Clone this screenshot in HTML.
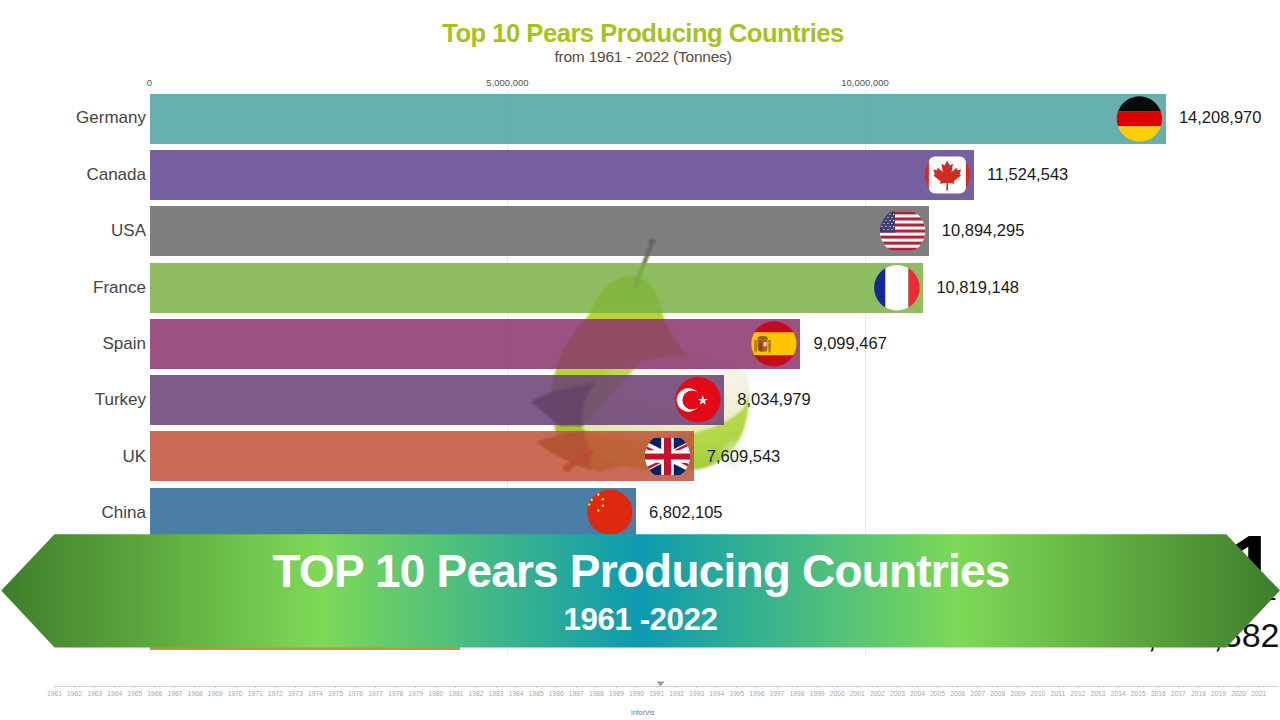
<!DOCTYPE html>
<html><head><meta charset="utf-8">
<style>
html,body{margin:0;padding:0;background:#fff;}
body{width:1280px;height:720px;position:relative;overflow:hidden;font-family:"Liberation Sans",sans-serif;}
.abs{position:absolute;}
#title{left:0;width:1286px;top:18.5px;text-align:center;font-weight:bold;font-size:25.6px;letter-spacing:-0.5px;color:#a6c21e;white-space:nowrap;}
#sub{left:0;width:1286px;top:48px;text-align:center;font-size:15.5px;letter-spacing:-0.22px;color:#58493d;white-space:nowrap;}
.tick{top:77px;font-size:9.5px;color:#555;white-space:nowrap;transform:translateX(-50%);}
.grid{top:90px;width:1px;height:564px;background:#ececec;}
.bar{left:149.5px;height:50px;opacity:0.85;}
.lab{right:1134px;font-size:17px;color:#444;white-space:nowrap;line-height:50px;}
.val{font-size:16.5px;color:#1a1a1a;white-space:nowrap;line-height:50px;}
#btitle{left:0;width:1282px;top:544px;text-align:center;font-weight:bold;font-size:46px;letter-spacing:-0.8px;color:#fff;white-space:nowrap;}
#byear{left:0;width:1281px;top:601.5px;text-align:center;font-weight:bold;font-size:31.3px;letter-spacing:-0.45px;color:#fff;white-space:nowrap;}
.yl{top:690px;font-size:6.7px;color:#a8a8a8;transform:translateX(-50%);white-space:nowrap;}
</style></head><body>
<div id="title" class="abs">Top 10 Pears Producing Countries</div>
<div id="sub" class="abs">from 1961 - 2022 (Tonnes)</div>
<div class="abs tick" style="left:149.5px">0</div>
<div class="abs tick" style="left:507.5px">5,000,000</div>
<div class="abs tick" style="left:865px">10,000,000</div>
<div class="abs grid" style="left:507px"></div>
<div class="abs grid" style="left:864.5px"></div>
<div class="abs" style="right:2px;top:515.5px;font-size:92px;font-weight:bold;color:#000;white-space:nowrap">2021</div>
<div class="abs" style="right:0.5px;top:616px;font-size:34px;color:#111;white-space:nowrap">158,763,382</div>
<div class="abs" style="left:1266px;top:588px;width:14px;height:10px;background:#fff"></div>
<svg class="abs" style="left:0;top:0" width="1280" height="720" viewBox="0 0 1280 720">
<defs>
<linearGradient id="pg1" x1="0" y1="0" x2="0" y2="1">
<stop offset="0" stop-color="#a8d020"/>
<stop offset="0.3" stop-color="#bcd838"/>
<stop offset="0.6" stop-color="#b4d038"/>
<stop offset="1" stop-color="#90bc28"/>
</linearGradient>
<radialGradient id="pg2" cx="0.55" cy="0.25" r="0.85">
<stop offset="0" stop-color="#c8e070"/>
<stop offset="0.6" stop-color="#b4d848"/>
<stop offset="1" stop-color="#98c838"/>
</radialGradient>
<radialGradient id="flesh" cx="0.6" cy="0.2" r="0.8">
<stop offset="0" stop-color="#fbfaf2"/>
<stop offset="0.6" stop-color="#f2f0dc"/>
<stop offset="1" stop-color="#e0e8b0"/>
</radialGradient>
<filter id="blur1" x="-10%" y="-10%" width="120%" height="120%"><feGaussianBlur stdDeviation="1.0"/></filter>
<filter id="blur2" x="-20%" y="-20%" width="140%" height="140%"><feGaussianBlur stdDeviation="2"/></filter>
<filter id="blur3" x="-20%" y="-20%" width="140%" height="140%"><feGaussianBlur stdDeviation="3"/></filter>
</defs>
<g filter="url(#blur1)">
<!-- back pear -->
<path d="M632,276 C650,276 658,292 664,318 C670,336 684,350 694,366 L725,440 L600,472 C570,462 551,440 551,402 C551,372 564,338 588,316 C598,294 610,276 632,276 Z" fill="url(#pg1)"/>
<!-- stem -->
<path d="M650,242 C645,256 639,270 633,288 L637,288 C642,272 649,258 654,243 Z" fill="#7a6a44"/>
<ellipse cx="652.2" cy="241.5" rx="3.6" ry="2.8" fill="#504638"/>
<!-- leaves -->
<path d="M531,402 C545,392 570,386 600,382 L592,426 L560,426 C550,418 540,410 531,402 Z" fill="#587040"/>
<path d="M536,442 C552,436 570,432 586,431 L592,470 C575,466 555,456 536,442 Z" fill="#6a6424"/>
<path d="M568,467 L603,444" stroke="#a03a24" stroke-width="6" stroke-linecap="round"/>
<circle cx="603" cy="444" r="5" fill="#a03a24"/>
<circle cx="567" cy="468" r="4" fill="#a03a24"/>
<!-- front pear skin -->
<path d="M690,358 C725,360 750,375 749,400 C748,430 735,462 700,469 C660,475 600,470 586,440 C576,415 585,380 620,364 C640,356 670,356 690,358 Z" fill="url(#pg2)"/>
</g>
<!-- flesh -->
<path d="M642,361 C680,353 722,356 745,372 C751,384 750,400 742,410 C724,426 700,434 660,438 C625,441 600,437 582,429 C595,410 620,385 642,361 Z" fill="url(#flesh)" filter="url(#blur1)"/>
<!-- reflection lower right -->
<ellipse cx="735" cy="455" rx="12" ry="14" fill="#e8f0d0" opacity="0.5" filter="url(#blur3)"/>
</svg>
<div class="abs bar" style="top:93.75px;width:1016.30px;background:#4ba2a2"></div>
<div class="abs bar" style="top:150.00px;width:824.29px;background:#5e448f"></div>
<div class="abs bar" style="top:206.25px;width:779.21px;background:#676767"></div>
<div class="abs bar" style="top:262.50px;width:773.84px;background:#7bb044"></div>
<div class="abs bar" style="top:318.75px;width:650.84px;background:#8c336c"></div>
<div class="abs bar" style="top:375.00px;width:574.70px;background:#6a3d73"></div>
<div class="abs bar" style="top:431.25px;width:544.27px;background:#c25038"></div>
<div class="abs bar" style="top:487.50px;width:486.52px;background:#2a6796"></div>
<div class="abs bar" style="top:543.75px;width:400.54px;background:#3d883d"></div>
<div class="abs bar" style="top:600.00px;width:310.42px;background:#bf7f17"></div>
<div class="abs lab" style="top:93.45px">Germany</div>
<div class="abs val" style="top:92.45px;left:1178.90px">14,208,970</div>
<div class="abs lab" style="top:149.80px">Canada</div>
<div class="abs val" style="top:148.80px;left:986.89px">11,524,543</div>
<div class="abs lab" style="top:206.15px">USA</div>
<div class="abs val" style="top:205.15px;left:941.81px">10,894,295</div>
<div class="abs lab" style="top:262.50px">France</div>
<div class="abs val" style="top:261.50px;left:936.44px">10,819,148</div>
<div class="abs lab" style="top:318.85px">Spain</div>
<div class="abs val" style="top:317.85px;left:813.44px">9,099,467</div>
<div class="abs lab" style="top:375.20px">Turkey</div>
<div class="abs val" style="top:374.20px;left:737.30px">8,034,979</div>
<div class="abs lab" style="top:431.55px">UK</div>
<div class="abs val" style="top:430.55px;left:706.87px">7,609,543</div>
<div class="abs lab" style="top:487.90px">China</div>
<div class="abs val" style="top:486.90px;left:649.12px">6,802,105</div>
<svg class="abs" style="left:0;top:0" width="1280" height="720" viewBox="0 0 1280 720">
<defs>
<clipPath id="cDE"><circle cx="1139.4" cy="119" r="22.7"/></clipPath>
<clipPath id="cCA"><circle cx="947.4" cy="175" r="22.6"/></clipPath>
<clipPath id="cUS"><circle cx="902.5" cy="231.1" r="22.7"/></clipPath>
<clipPath id="cFR"><circle cx="896.9" cy="287.8" r="22.8"/></clipPath>
<clipPath id="cES"><circle cx="773.9" cy="343.9" r="22.7"/></clipPath>
<clipPath id="cTR"><circle cx="697.9" cy="399.8" r="22.7"/></clipPath>
<clipPath id="cUK"><circle cx="667.5" cy="456.3" r="22.7"/></clipPath><clipPath id="cUK2"><rect x="640" y="437.8" width="60" height="37.5"/></clipPath>
<clipPath id="cCN"><circle cx="609.8" cy="512.3" r="22.7"/></clipPath>
</defs>
<!-- Germany -->
<g clip-path="url(#cDE)">
<rect x="1116" y="96" width="47" height="15.3" fill="#0a0a0a"/>
<rect x="1116" y="111.3" width="47" height="15" fill="#dd0000"/>
<rect x="1116" y="126.3" width="47" height="16" fill="#ffce00"/>
</g>
<!-- Canada -->
<g clip-path="url(#cCA)">
<rect x="924" y="156.5" width="6" height="37" fill="#d52b1e"/><rect x="965" y="156.5" width="6" height="37" fill="#d52b1e"/>
</g>
<rect x="928.9" y="156.5" width="37" height="37" rx="6" fill="#fff"/>
<polygon fill="#d52b1e" points="947.2,160.4 949.8,165.5 953,163.8 951.6,172 956.5,167.8 957.6,170.2 961,169.4 959.6,174.5 961,175.6 953.6,181.6 954.6,183.8 947.9,182.9 948.1,190.4 946.3,190.4 946.5,182.9 939.8,183.8 940.8,181.6 933.4,175.6 934.8,174.5 933.4,169.4 936.8,170.2 937.9,167.8 942.8,172 941.4,163.8 944.6,165.5"/>
<!-- USA -->
<g clip-path="url(#cUS)">
<rect x="879" y="211.4" width="47" height="39.3" fill="#fff"/>
<g fill="#b22234">
<rect x="879" y="211.4" width="47" height="3.02"/>
<rect x="879" y="217.45" width="47" height="3.02"/>
<rect x="879" y="223.5" width="47" height="3.02"/>
<rect x="879" y="229.55" width="47" height="3.02"/>
<rect x="879" y="235.6" width="47" height="3.02"/>
<rect x="879" y="241.65" width="47" height="3.02"/>
<rect x="879" y="247.7" width="47" height="3.02"/>
</g>
<rect x="879" y="211.4" width="15.9" height="21.15" fill="#3c3b6e"/>
<g fill="#fff" opacity="0.85">
<circle cx="882" cy="214.5" r="0.7"/><circle cx="886" cy="214.5" r="0.7"/><circle cx="890" cy="214.5" r="0.7"/><circle cx="893.5" cy="214.5" r="0.7"/>
<circle cx="884" cy="217.5" r="0.7"/><circle cx="888" cy="217.5" r="0.7"/><circle cx="892" cy="217.5" r="0.7"/>
<circle cx="882" cy="220.5" r="0.7"/><circle cx="886" cy="220.5" r="0.7"/><circle cx="890" cy="220.5" r="0.7"/><circle cx="893.5" cy="220.5" r="0.7"/>
<circle cx="884" cy="223.5" r="0.7"/><circle cx="888" cy="223.5" r="0.7"/><circle cx="892" cy="223.5" r="0.7"/>
<circle cx="882" cy="226.5" r="0.7"/><circle cx="886" cy="226.5" r="0.7"/><circle cx="890" cy="226.5" r="0.7"/><circle cx="893.5" cy="226.5" r="0.7"/>
<circle cx="884" cy="229.5" r="0.7"/><circle cx="888" cy="229.5" r="0.7"/><circle cx="892" cy="229.5" r="0.7"/>
</g>
</g>
<!-- France -->
<g clip-path="url(#cFR)">
<rect x="873" y="264" width="12.4" height="48" fill="#15279a"/>
<rect x="885.4" y="264" width="23" height="48" fill="#fff"/>
<rect x="908.4" y="264" width="13" height="48" fill="#ed2939"/>
</g>
<!-- Spain -->
<g clip-path="url(#cES)">
<rect x="750" y="320" width="48" height="48" fill="#c60b1e"/>
<rect x="750" y="332.2" width="48" height="23" fill="#ffc400"/>
</g>
<g>
<path d="M757.2,339.6 C757.5,336.5 760,335.8 762.6,336.2 C765,335.8 768,336.5 768,339.6 Z" fill="#8a6410"/>
<path d="M757.6,339.4 L767.3,339.4 L767.3,349 C767.3,351 765,351.8 762.5,351.8 C760,351.8 757.6,351 757.6,349 Z" fill="#a85a18"/>
<rect x="759" y="343" width="3" height="8" fill="#8a3a10" opacity="0.8"/>
<rect x="763.5" y="342" width="3.2" height="4.2" fill="#f0d8c8"/>
<rect x="763.5" y="346.5" width="3.2" height="4.5" fill="#c06018"/>
<rect x="754.3" y="342.5" width="2.6" height="7.5" fill="#b87818"/>
<rect x="768.3" y="342.5" width="2.6" height="7.5" fill="#b87818"/>
<circle cx="755.6" cy="341.2" r="1.4" fill="#8a8a10"/>
<circle cx="769.4" cy="341.2" r="1.4" fill="#8a8a10"/>
<circle cx="755.6" cy="351.1" r="1.5" fill="#9a9a10"/>
<circle cx="769.5" cy="351.1" r="1.5" fill="#9a9a10"/>
</g>
<!-- Turkey -->
<circle cx="697.9" cy="399.8" r="22.7" fill="#e30a17"/>
<circle cx="688.4" cy="400" r="11.7" fill="#fff"/>
<circle cx="691.9" cy="400" r="9.5" fill="#e30a17"/>
<polygon fill="#fff" points="703.6,395.3 704.8,398.9 708.6,398.9 705.5,401.1 706.7,404.8 703.6,402.5 700.5,404.8 701.7,401.1 698.6,398.9 702.4,398.9" transform="translate(-0.8,0)"/>
<!-- UK -->
<g clip-path="url(#cUK2)"><g clip-path="url(#cUK)">
<rect x="630" y="437.8" width="75" height="37.5" fill="#012169"/>
<path d="M630,437.8 L705,475.3 M705,437.8 L630,475.3" stroke="#fff" stroke-width="7.5"/>
<clipPath id="ukTL"><rect x="630" y="437.8" width="37.5" height="18.75"/></clipPath>
<clipPath id="ukTR"><rect x="667.5" y="437.8" width="37.5" height="18.75"/></clipPath>
<clipPath id="ukBL"><rect x="630" y="456.55" width="37.5" height="18.75"/></clipPath>
<clipPath id="ukBR"><rect x="667.5" y="456.55" width="37.5" height="18.75"/></clipPath>
<g clip-path="url(#ukTL)"><path d="M630,439.4 L705,476.9" stroke="#c8102e" stroke-width="2.5"/></g>
<g clip-path="url(#ukBR)"><path d="M630,436.2 L705,473.7" stroke="#c8102e" stroke-width="2.5"/></g>
<g clip-path="url(#ukTR)"><path d="M705,436.2 L630,473.7" stroke="#c8102e" stroke-width="2.5"/></g>
<g clip-path="url(#ukBL)"><path d="M705,439.4 L630,476.9" stroke="#c8102e" stroke-width="2.5"/></g>
<rect x="630" y="450.3" width="75" height="12.5" fill="#fff"/>
<rect x="661.25" y="437.8" width="12.5" height="37.5" fill="#fff"/>
<rect x="630" y="453.55" width="75" height="6" fill="#c8102e"/>
<rect x="664" y="437.8" width="7" height="37.5" fill="#c8102e"/>
</g></g>
<!-- China -->
<circle cx="609.8" cy="512.3" r="22.7" fill="#de2910"/>
<g fill="#ffde00">
<circle cx="598.3" cy="494.6" r="1.3"/>
<circle cx="602.9" cy="499.2" r="1.3"/>
<circle cx="602.9" cy="505.8" r="1.3"/>
<circle cx="598.3" cy="510.4" r="1.3"/>
<circle cx="591.7" cy="500" r="1.2"/>
<circle cx="589.2" cy="504.6" r="1.2"/>
</g>
</svg>
<svg class="abs" style="left:0;top:534px" width="1280" height="114" viewBox="0 0 1280 114">
<defs><linearGradient id="bg" x1="0" x2="1280" y1="0" y2="0" gradientUnits="userSpaceOnUse">
<stop offset="0" stop-color="#3f7d2a"/>
<stop offset="0.25" stop-color="#7ed957"/>
<stop offset="0.5" stop-color="#0c9ab0"/>
<stop offset="0.75" stop-color="#7ed957"/>
<stop offset="1" stop-color="#3f7d2a"/>
</linearGradient></defs>
<polygon points="54.5,0.25 1226.25,0.25 1280,56.5 1226.25,113.5 54.5,113.5 1.25,56.5" fill="url(#bg)"/>
</svg>
<div id="btitle" class="abs">TOP 10 Pears Producing Countries</div>
<div id="byear" class="abs">1961 -2022</div>
<div class="abs" style="left:54px;top:686px;width:1224px;height:1px;background:#d0d0d0"></div>
<div class="abs" style="left:54.00px;top:686px;width:1px;height:2px;background:#d0d0d0"></div><div class="abs yl" style="left:54.50px">1961</div>
<div class="abs" style="left:74.07px;top:686px;width:1px;height:2px;background:#d0d0d0"></div><div class="abs yl" style="left:74.57px">1962</div>
<div class="abs" style="left:94.14px;top:686px;width:1px;height:2px;background:#d0d0d0"></div><div class="abs yl" style="left:94.64px">1963</div>
<div class="abs" style="left:114.21px;top:686px;width:1px;height:2px;background:#d0d0d0"></div><div class="abs yl" style="left:114.71px">1964</div>
<div class="abs" style="left:134.28px;top:686px;width:1px;height:2px;background:#d0d0d0"></div><div class="abs yl" style="left:134.78px">1965</div>
<div class="abs" style="left:154.35px;top:686px;width:1px;height:2px;background:#d0d0d0"></div><div class="abs yl" style="left:154.85px">1966</div>
<div class="abs" style="left:174.42px;top:686px;width:1px;height:2px;background:#d0d0d0"></div><div class="abs yl" style="left:174.92px">1967</div>
<div class="abs" style="left:194.49px;top:686px;width:1px;height:2px;background:#d0d0d0"></div><div class="abs yl" style="left:194.99px">1968</div>
<div class="abs" style="left:214.56px;top:686px;width:1px;height:2px;background:#d0d0d0"></div><div class="abs yl" style="left:215.06px">1969</div>
<div class="abs" style="left:234.63px;top:686px;width:1px;height:2px;background:#d0d0d0"></div><div class="abs yl" style="left:235.13px">1970</div>
<div class="abs" style="left:254.70px;top:686px;width:1px;height:2px;background:#d0d0d0"></div><div class="abs yl" style="left:255.20px">1971</div>
<div class="abs" style="left:274.77px;top:686px;width:1px;height:2px;background:#d0d0d0"></div><div class="abs yl" style="left:275.27px">1972</div>
<div class="abs" style="left:294.84px;top:686px;width:1px;height:2px;background:#d0d0d0"></div><div class="abs yl" style="left:295.34px">1973</div>
<div class="abs" style="left:314.91px;top:686px;width:1px;height:2px;background:#d0d0d0"></div><div class="abs yl" style="left:315.41px">1974</div>
<div class="abs" style="left:334.98px;top:686px;width:1px;height:2px;background:#d0d0d0"></div><div class="abs yl" style="left:335.48px">1975</div>
<div class="abs" style="left:355.05px;top:686px;width:1px;height:2px;background:#d0d0d0"></div><div class="abs yl" style="left:355.55px">1976</div>
<div class="abs" style="left:375.12px;top:686px;width:1px;height:2px;background:#d0d0d0"></div><div class="abs yl" style="left:375.62px">1977</div>
<div class="abs" style="left:395.19px;top:686px;width:1px;height:2px;background:#d0d0d0"></div><div class="abs yl" style="left:395.69px">1978</div>
<div class="abs" style="left:415.26px;top:686px;width:1px;height:2px;background:#d0d0d0"></div><div class="abs yl" style="left:415.76px">1979</div>
<div class="abs" style="left:435.33px;top:686px;width:1px;height:2px;background:#d0d0d0"></div><div class="abs yl" style="left:435.83px">1980</div>
<div class="abs" style="left:455.40px;top:686px;width:1px;height:2px;background:#d0d0d0"></div><div class="abs yl" style="left:455.90px">1981</div>
<div class="abs" style="left:475.47px;top:686px;width:1px;height:2px;background:#d0d0d0"></div><div class="abs yl" style="left:475.97px">1982</div>
<div class="abs" style="left:495.54px;top:686px;width:1px;height:2px;background:#d0d0d0"></div><div class="abs yl" style="left:496.04px">1983</div>
<div class="abs" style="left:515.61px;top:686px;width:1px;height:2px;background:#d0d0d0"></div><div class="abs yl" style="left:516.11px">1984</div>
<div class="abs" style="left:535.68px;top:686px;width:1px;height:2px;background:#d0d0d0"></div><div class="abs yl" style="left:536.18px">1985</div>
<div class="abs" style="left:555.75px;top:686px;width:1px;height:2px;background:#d0d0d0"></div><div class="abs yl" style="left:556.25px">1986</div>
<div class="abs" style="left:575.82px;top:686px;width:1px;height:2px;background:#d0d0d0"></div><div class="abs yl" style="left:576.32px">1987</div>
<div class="abs" style="left:595.89px;top:686px;width:1px;height:2px;background:#d0d0d0"></div><div class="abs yl" style="left:596.39px">1988</div>
<div class="abs" style="left:615.96px;top:686px;width:1px;height:2px;background:#d0d0d0"></div><div class="abs yl" style="left:616.46px">1989</div>
<div class="abs" style="left:636.03px;top:686px;width:1px;height:2px;background:#d0d0d0"></div><div class="abs yl" style="left:636.53px">1990</div>
<div class="abs" style="left:656.10px;top:686px;width:1px;height:2px;background:#d0d0d0"></div><div class="abs yl" style="left:656.60px">1991</div>
<div class="abs" style="left:676.17px;top:686px;width:1px;height:2px;background:#d0d0d0"></div><div class="abs yl" style="left:676.67px">1992</div>
<div class="abs" style="left:696.24px;top:686px;width:1px;height:2px;background:#d0d0d0"></div><div class="abs yl" style="left:696.74px">1993</div>
<div class="abs" style="left:716.31px;top:686px;width:1px;height:2px;background:#d0d0d0"></div><div class="abs yl" style="left:716.81px">1994</div>
<div class="abs" style="left:736.38px;top:686px;width:1px;height:2px;background:#d0d0d0"></div><div class="abs yl" style="left:736.88px">1995</div>
<div class="abs" style="left:756.45px;top:686px;width:1px;height:2px;background:#d0d0d0"></div><div class="abs yl" style="left:756.95px">1996</div>
<div class="abs" style="left:776.52px;top:686px;width:1px;height:2px;background:#d0d0d0"></div><div class="abs yl" style="left:777.02px">1997</div>
<div class="abs" style="left:796.59px;top:686px;width:1px;height:2px;background:#d0d0d0"></div><div class="abs yl" style="left:797.09px">1998</div>
<div class="abs" style="left:816.66px;top:686px;width:1px;height:2px;background:#d0d0d0"></div><div class="abs yl" style="left:817.16px">1999</div>
<div class="abs" style="left:836.73px;top:686px;width:1px;height:2px;background:#d0d0d0"></div><div class="abs yl" style="left:837.23px">2000</div>
<div class="abs" style="left:856.80px;top:686px;width:1px;height:2px;background:#d0d0d0"></div><div class="abs yl" style="left:857.30px">2001</div>
<div class="abs" style="left:876.87px;top:686px;width:1px;height:2px;background:#d0d0d0"></div><div class="abs yl" style="left:877.37px">2002</div>
<div class="abs" style="left:896.94px;top:686px;width:1px;height:2px;background:#d0d0d0"></div><div class="abs yl" style="left:897.44px">2003</div>
<div class="abs" style="left:917.01px;top:686px;width:1px;height:2px;background:#d0d0d0"></div><div class="abs yl" style="left:917.51px">2004</div>
<div class="abs" style="left:937.08px;top:686px;width:1px;height:2px;background:#d0d0d0"></div><div class="abs yl" style="left:937.58px">2005</div>
<div class="abs" style="left:957.15px;top:686px;width:1px;height:2px;background:#d0d0d0"></div><div class="abs yl" style="left:957.65px">2006</div>
<div class="abs" style="left:977.22px;top:686px;width:1px;height:2px;background:#d0d0d0"></div><div class="abs yl" style="left:977.72px">2007</div>
<div class="abs" style="left:997.29px;top:686px;width:1px;height:2px;background:#d0d0d0"></div><div class="abs yl" style="left:997.79px">2008</div>
<div class="abs" style="left:1017.36px;top:686px;width:1px;height:2px;background:#d0d0d0"></div><div class="abs yl" style="left:1017.86px">2009</div>
<div class="abs" style="left:1037.43px;top:686px;width:1px;height:2px;background:#d0d0d0"></div><div class="abs yl" style="left:1037.93px">2010</div>
<div class="abs" style="left:1057.50px;top:686px;width:1px;height:2px;background:#d0d0d0"></div><div class="abs yl" style="left:1058.00px">2011</div>
<div class="abs" style="left:1077.57px;top:686px;width:1px;height:2px;background:#d0d0d0"></div><div class="abs yl" style="left:1078.07px">2012</div>
<div class="abs" style="left:1097.64px;top:686px;width:1px;height:2px;background:#d0d0d0"></div><div class="abs yl" style="left:1098.14px">2013</div>
<div class="abs" style="left:1117.71px;top:686px;width:1px;height:2px;background:#d0d0d0"></div><div class="abs yl" style="left:1118.21px">2014</div>
<div class="abs" style="left:1137.78px;top:686px;width:1px;height:2px;background:#d0d0d0"></div><div class="abs yl" style="left:1138.28px">2015</div>
<div class="abs" style="left:1157.85px;top:686px;width:1px;height:2px;background:#d0d0d0"></div><div class="abs yl" style="left:1158.35px">2016</div>
<div class="abs" style="left:1177.92px;top:686px;width:1px;height:2px;background:#d0d0d0"></div><div class="abs yl" style="left:1178.42px">2017</div>
<div class="abs" style="left:1197.99px;top:686px;width:1px;height:2px;background:#d0d0d0"></div><div class="abs yl" style="left:1198.49px">2018</div>
<div class="abs" style="left:1218.06px;top:686px;width:1px;height:2px;background:#d0d0d0"></div><div class="abs yl" style="left:1218.56px">2019</div>
<div class="abs" style="left:1238.13px;top:686px;width:1px;height:2px;background:#d0d0d0"></div><div class="abs yl" style="left:1238.63px">2020</div>
<div class="abs" style="left:1258.20px;top:686px;width:1px;height:2px;background:#d0d0d0"></div><div class="abs yl" style="left:1258.70px">2021</div>
<svg class="abs" style="left:656px;top:681px" width="9" height="6"><polygon points="0.5,0.5 8.5,0.5 4.5,5.5" fill="#999"/></svg>
<div class="abs" style="left:631px;top:708.5px;font-size:7px;color:#777">InforVis</div>
</body></html>
